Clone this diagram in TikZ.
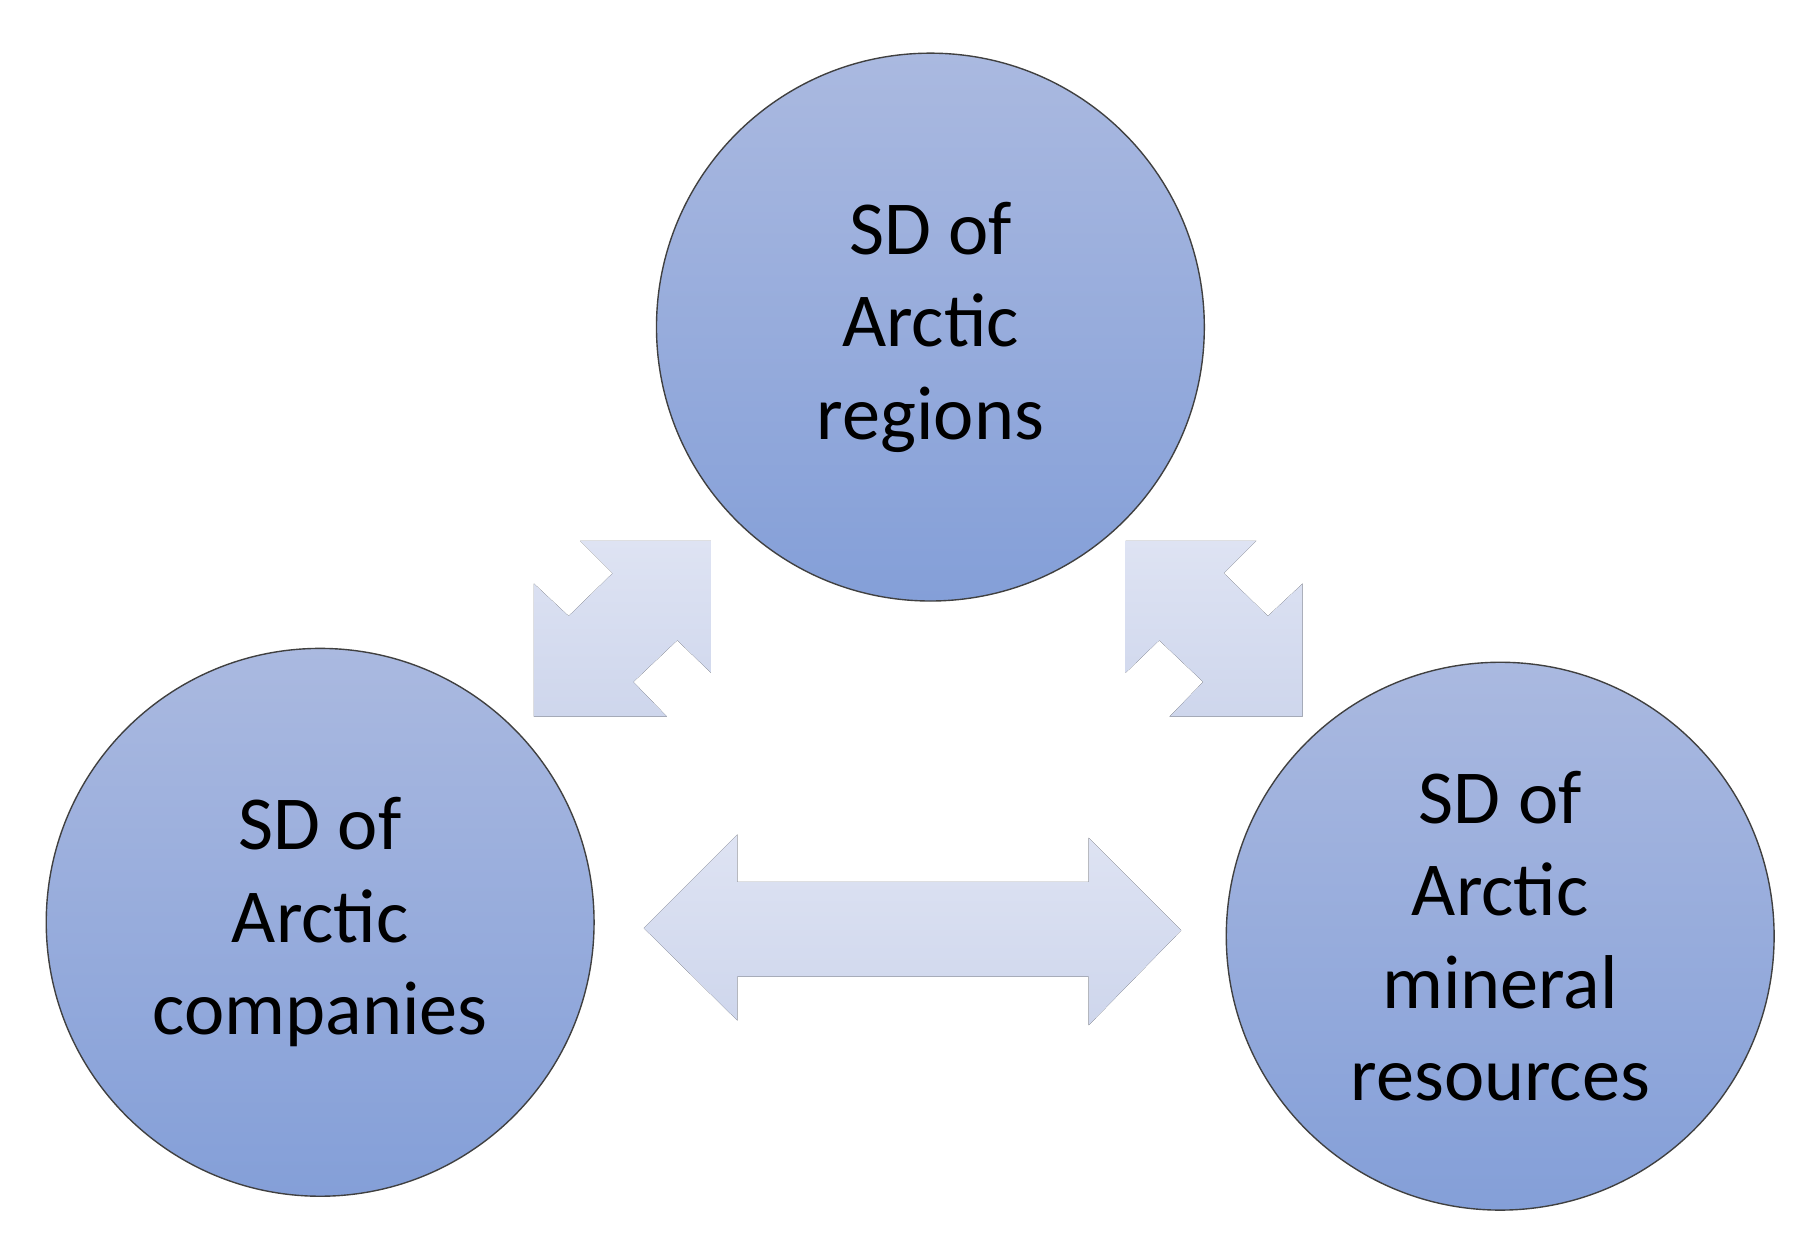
\documentclass[tikz,border=0pt]{standalone}
\usepackage{fontspec}
\setmainfont{Carlito}
\begin{document}
\begin{tikzpicture}[x=1pt,y=-1pt,
  circ/.style={circle,minimum size=474pt,inner sep=0pt,draw=black!75,line width=1.2pt,
    top color={rgb,255:red,170;green,185;blue,224},bottom color={rgb,255:red,132;green,159;blue,216},
    align=center,font=\fontsize{66}{80}\selectfont,text=black},
  arr/.style={top color={rgb,255:red,222;green,227;blue,243},bottom color={rgb,255:red,206;green,214;blue,236},draw=none}]
\useasboundingbox (0,0) rectangle (1560,1073);
\fill[white] (0,0) rectangle (1560,1073);
\node[circ] (top) at (805,283) {SD of\\Arctic\\regions};
\node[circ] (left) at (277,798) {SD of\\Arctic\\companies};
\node[circ] (right) at (1298,810) {SD of\\Arctic\\mineral\\resources};
\fill[arr] (557,803)--(638,722)--(638,763)--(942,763)--(942,725)--(1022,805)--(942,887)--(942,845)--(638,845)--(638,883)--cycle;
\fill[arr] (502,468)--(615,468)--(615,582)--(586,554)--(548,590)--(577,620)--(462,620)--(462,505)--(492,533)--(530,496)--cycle;
\fill[arr] (1087,468)--(974,468)--(974,582)--(1003,554)--(1041,590)--(1012,620)--(1127,620)--(1127,505)--(1097,533)--(1059,496)--cycle;
\end{tikzpicture}
\end{document}
